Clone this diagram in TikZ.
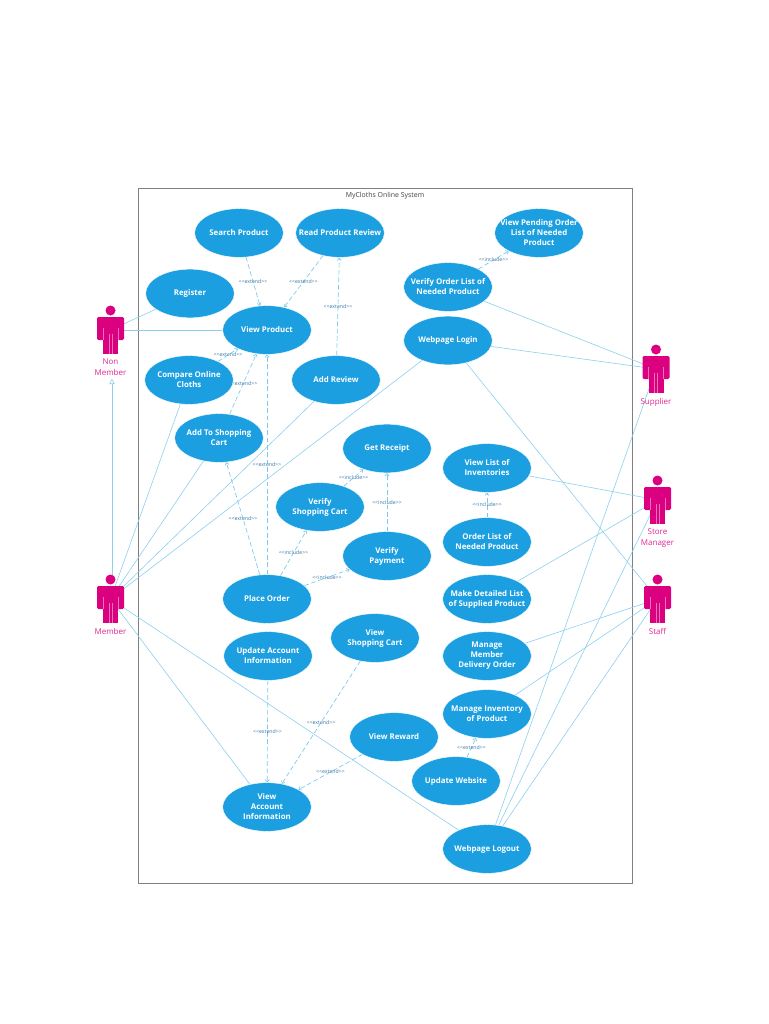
\documentclass[tikz,border=0pt]{standalone}
\usepackage{fontspec}
\setmainfont{Open Sans}
\usetikzlibrary{arrows.meta, shapes.geometric, positioning, backgrounds}
\definecolor{ucblue}{HTML}{1B9FE0}
\definecolor{linkblue}{HTML}{8CCFEE}
\definecolor{stereo}{HTML}{3A77A5}
\definecolor{actorpink}{HTML}{DB007F}
\begin{document}
\begin{tikzpicture}[x=0.75pt, y=-0.75pt,
        uc/.style={ellipse, fill=ucblue, draw=white, line width=0.3pt, text=white, font=\fontsize{5.9}{7.5}\selectfont\bfseries, align=center, minimum width=66.5pt, minimum height=36.5pt, inner xsep=-30pt, inner ysep=-8pt},
        actor/.style={minimum width=20pt, minimum height=36pt, inner sep=0},
        actorlabel/.style={text=actorpink!85, font=\fontsize{6}{7.6}\selectfont, align=center, inner sep=1.5pt},
        assoc/.style={draw=linkblue, line width=0.45pt},
        dep/.style={draw=linkblue!85!ucblue, dash pattern=on 3.5pt off 2pt, line width=0.5pt, -{Straight Barb[length=1.8pt, width=3pt]}},
        stereotype/.style={text=stereo, font=\fontsize{3.9}{4}\selectfont, inner sep=0},
        gen/.style={draw=linkblue, line width=0.45pt, -{Triangle[open, length=4pt, width=4pt]}}]
        \useasboundingbox (0,0) rectangle (768,1024);

        \foreach \n/\x/\y/\t in {Search/239/233/{Search Product}, Read/340/233/{Read Product Review}, Register/190/293.5/{Register},
            ViewProduct/267/330/{View Product}, Compare/189/380/{Compare Online\\Cloths}, AddReview/336/380/{Add Review},
            AddCart/219/438/{Add To Shopping\\Cart}, Receipt/387/448.5/{Get Receipt}, ViewList/487/468/{View List of\\Inventories},
            VerifyCart/320/507/{Verify\\Shopping Cart}, OrderList/487/542/{Order List of\\Needed Product}, VerifyPay/387/556/{Verify\\Payment},
            Detailed/487/599/{Make Detailed List\\of Supplied Product}, PlaceOrder/267/599/{Place Order}, UpdateAcc/268/656/{Update Account\\Information},
            ViewCart/375/638/{View\\Shopping Cart}, Delivery/487/656/{Manage\\Member\\Delivery Order}, Inventory/487/714/{Manage Inventory\\of Product},
            Reward/394/737/{View Reward}, Website/456/781/{Update Website}, ViewAcc/267/807/{View\\Account\\Information},
            Logout/487/849/{Webpage Logout}, Pending/539/233/{View Pending Order\\List of Needed\\Product}, VerifyOrder/448/287/{Verify Order List of\\Needed Product},
            Login/448/340.5/{Webpage Login}}
        \node[uc] (\n) at (\x,\y) {\t};

        \foreach \n/\x/\y/\t in {NonMember/110.5/330/{Non\\Member}, Member/110.5/599/{Member}, Supplier/656/369/{Supplier}, Manager/657.5/500/{Store\\Manager}, Staff/657.5/599/{Staff}}
        {
        \node[actor] (\n) at (\x,\y) {};
        \node[actorlabel, below=2pt of \n] (\n Label) {\t};
        \begin{scope}[shift={(\x,\y)}]
        \fill[actorpink] (0,-19.5) circle (5);
        \fill[actorpink, rounded corners=1pt] (-13.5,-13) rectangle (13.5,10);
        \fill[actorpink] (-7.5,0) rectangle (7.5,23.5);
        \draw[white, opacity=0.45, line width=0.3pt] (-7.5,-2) -- (-7.5,10) (7.5,-2) -- (7.5,10) (-1.5,4) -- (-1.5,23.5) (1.5,4) -- (1.5,23.5);
        \end{scope}
        }

        \node[text=black!75, font=\fontsize{5.2}{6}\selectfont, inner sep=0] (title) at (385,196) {MyCloths Online System};

        \begin{pgfonlayer}{background}
        \draw[black!50, line width=0.7pt] (138,188) rectangle (632,883);

        \foreach \a/\b in {NonMember/Register, NonMember/ViewProduct, Member/Compare, Member/AddCart, Member/AddReview, Member/Login, Member/ViewAcc, Member/Logout,
            Supplier/VerifyOrder, Supplier/Login, Supplier/Logout, Manager/ViewList, Manager/Detailed, Manager/Logout, Staff/Login, Staff/Delivery, Staff/Inventory, Staff/Logout}
        \draw[assoc] (\a.center) -- (\b);

        \draw[gen] ([xshift=1.1pt]Member.north) -- ([xshift=1.1pt, yshift=-1pt]NonMemberLabel.south);

        \foreach \a/\b/\t in {Search/ViewProduct/extend, Read/ViewProduct/extend, AddReview/Read/extend, Compare/ViewProduct/extend, AddCart/ViewProduct/extend,
            PlaceOrder/ViewProduct/extend, PlaceOrder/AddCart/extend, PlaceOrder/VerifyCart/include, PlaceOrder/VerifyPay/include, VerifyCart/Receipt/include,
            VerifyPay/Receipt/include, OrderList/ViewList/include, VerifyOrder/Pending/include, UpdateAcc/ViewAcc/extend, ViewCart/ViewAcc/extend, Reward/ViewAcc/extend, Website/Inventory/extend}
        \draw[dep] (\a) -- node[stereotype] (\a\b) {{<}{<}\t{>}{>}} (\b);
        \end{pgfonlayer}
\end{tikzpicture}
\end{document}
